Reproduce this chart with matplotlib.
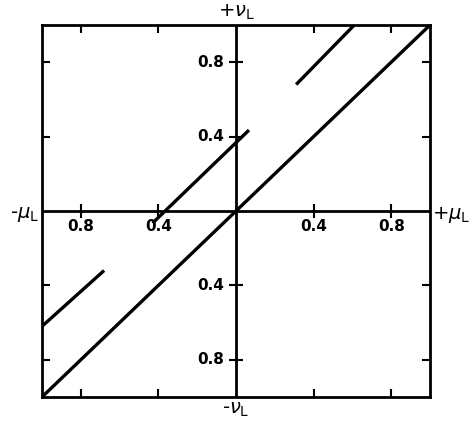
import matplotlib
matplotlib.use("Agg")
import matplotlib.pyplot as plt

TICKS = [-0.8, -0.4, 0.4, 0.8]
TICK_LABELS = ["0.8", "0.4", "0.4", "0.8"]

# main diagonal and the three short parallel segments (mu, nu)
DIAG_X = [-1.0, 1.0]
DIAG_Y = [-1.0, 1.0]
SEGMENTS = [
    ([-0.43, 0.067], [-0.065, 0.435]),
    ([0.31, 0.61], [0.68, 1.0]),
    ([-1.0, -0.68], [-0.62, -0.32]),
]

fig = plt.figure(figsize=(4.74, 4.21), dpi=100)
ax = fig.add_axes([42 / 474, 24 / 421, 388 / 474, 372 / 421])
ax.set_xlim(-1, 1)
ax.set_ylim(-1, 1)

lw = 2.4
for s in ax.spines.values():
    s.set_linewidth(2)
ax.set_xticks(TICKS)
ax.set_yticks(TICKS)
ax.tick_params(direction="in", length=6, width=1.5, top=True, right=True,
               labelbottom=False, labelleft=False)

ax.axhline(0, color="black", lw=2)
ax.axvline(0, color="black", lw=2)
# crossing ticks on the centre axes
ax.plot(TICKS, [0] * len(TICKS), ls="none", marker="|", ms=10, mew=1.5, color="black")
ax.plot([0] * len(TICKS), TICKS, ls="none", marker="_", ms=10, mew=1.5, color="black")

ax.plot(DIAG_X, DIAG_Y, color="black", lw=lw, solid_capstyle="butt", clip_on=False)
for xs, ys in SEGMENTS:
    ax.plot(xs, ys, color="black", lw=lw, solid_capstyle="butt")

font = dict(fontsize=11, fontweight="bold", family="DejaVu Sans")
for t, lab in zip(TICKS, TICK_LABELS):
    ax.text(t, -0.045, lab, ha="center", va="top", **font)
    ax.text(-0.06, t, lab, ha="right", va="center", **font)

big = dict(fontsize=14, family="DejaVu Sans")
ax.text(-1.015, -0.02, r"-$\mu_{\mathsf{L}}$", ha="right", va="center", **big)
ax.text(1.01, -0.02, r"+$\mu_{\mathsf{L}}$", ha="left", va="center", **big)
ax.text(0, 1.015, r"+$\nu_{\mathsf{L}}$", ha="center", va="bottom", **big)
ax.text(0, -1.015, r"-$\nu_{\mathsf{L}}$", ha="center", va="top", **big)

fig.savefig("out.png", dpi=100, facecolor="white")
